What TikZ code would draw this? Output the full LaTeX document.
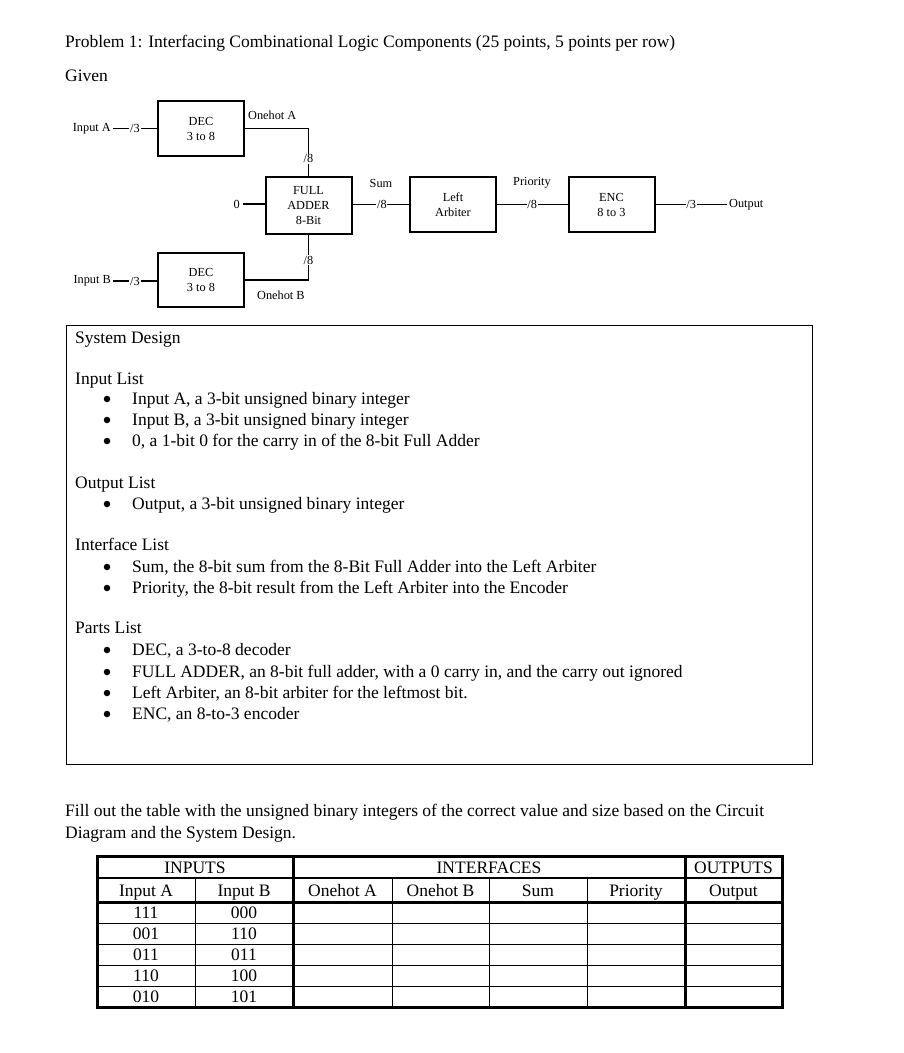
\documentclass[tikz,border=0pt]{standalone}
\usepackage{fontspec}
\setmainfont{Liberation Serif}
\newcommand\myDiag{\fontsize{12.3}{15}\selectfont}
\newcommand\myMain{\fontsize{17.5}{21}\selectfont}
\tikzset{
  blockbox/.style={draw, line width=2pt, minimum width=86pt, align=center, font=\myDiag, inner sep=0pt},
  wire/.style={line width=1.5pt},
  buslbl/.style={fill=white, inner sep=0.8pt, font=\myDiag},
  dlbl/.style={font=\myDiag, inner sep=0pt},
  txt/.style={anchor=base west, inner sep=0pt, font=\myMain},
  bul/.style={circle, fill=black, minimum size=6.5pt, inner sep=0pt},
  cell/.style={anchor=base, inner sep=0pt, font=\myMain},
  thinl/.style={line width=1pt},
  thickl/.style={line width=3pt},
}
\begin{document}
\begin{tikzpicture}[x=1pt,y=-1pt]
\useasboundingbox (0,0) rectangle (903,1053);

% heading
\node[txt] (title) at (65,47) {Problem 1: Interfacing Combinational Logic Components (25 points, 5 points per row)};
\node[txt] (given) at (65,81) {Given};

% blocks
\node[blockbox, minimum height=55pt] (decA) at (201,128.5) {DEC\\3 to 8};
\node[blockbox, minimum height=54pt] (decB) at (201,280) {DEC\\3 to 8};
\node[blockbox, minimum height=57pt] (fa) at (308.5,205.5) {FULL\\ADDER\\8-Bit};
\node[blockbox, minimum height=55pt] (arb) at (453,204.5) {Left\\Arbiter};
\node[blockbox, minimum height=55pt] (enc) at (611.5,204.5) {ENC\\8 to 3};

% external labels
\node[dlbl, anchor=east] (inA) at (111,128.5) {Input A};
\node[dlbl, anchor=east] (inB) at (111,281) {Input B};
\node[dlbl, anchor=east] (zero) at (240,204) {0};
\node[dlbl, anchor=west] (out) at (729,204.5) {Output};
\node[dlbl, anchor=west] (ohA) at (248,115) {Onehot A};
\node[dlbl, anchor=west] (ohB) at (257,295) {Onehot B};
\node[dlbl] (sumlbl) at (381,183) {Sum};
\node[dlbl] (prilbl) at (532,183) {Priority};

% connectors
\draw[wire] ([xshift=2pt]inA.east) -- node[buslbl, pos=0.5]{/3} (inA.east -| decA.west);
\draw[wire] ([xshift=2pt]inB.east) -- node[buslbl, pos=0.5]{/3} (inB.east -| decB.west);
\draw[wire] ([xshift=3pt]zero.east) -- (zero.east -| fa.west);
\draw[wire] (decA.east) -| node[buslbl, pos=0.82]{/8} (fa.north);
\draw[wire] (fa.south) |- node[buslbl, pos=0.28]{/8} (decB.east);
\draw[wire] (fa.east |- arb.west) -- node[buslbl, pos=0.52]{/8} (arb.west);
\draw[wire] (arb.east) -- node[buslbl, pos=0.5]{/8} (enc.west);
\draw[wire] (enc.east) -- node[buslbl, pos=0.5]{/3} ([xshift=-2pt]out.west);

% system design box
\draw[line width=1pt] (66,325) rectangle (812,764);
\node[txt] (sd) at (75,343) {System Design};
\node[txt] (il) at (75,384) {Input List};
\node[bul] at (107,399) {};
\node[txt] at (132,404) {Input A, a 3-bit unsigned binary integer};
\node[bul] at (107,420) {};
\node[txt] at (132,425) {Input B, a 3-bit unsigned binary integer};
\node[bul] at (107,441) {};
\node[txt] at (132,446) {0, a 1-bit 0 for the carry in of the 8-bit Full Adder};

\node[txt] (ol) at (75,488) {Output List};
\node[bul] at (107,504) {};
\node[txt] at (132,509) {Output, a 3-bit unsigned binary integer};

\node[txt] (ifl) at (75,550) {Interface List};
\node[bul] at (107,567) {};
\node[txt] at (132,572) {Sum, the 8-bit sum from the 8-Bit Full Adder into the Left Arbiter};
\node[bul] at (107,588) {};
\node[txt] at (132,593) {Priority, the 8-bit result from the Left Arbiter into the Encoder};

\node[txt] (pl) at (75,633) {Parts List};
\node[bul] at (107,650) {};
\node[txt] at (132,655) {DEC, a 3-to-8 decoder};
\node[bul] at (107,672) {};
\node[txt] at (132,677) {FULL ADDER, an 8-bit full adder, with a 0 carry in, and the carry out ignored};
\node[bul] at (107,693) {};
\node[txt] at (132,698) {Left Arbiter, an 8-bit arbiter for the leftmost bit.};
\node[bul] at (107,714) {};
\node[txt] at (132,719) {ENC, an 8-to-3 encoder};

% instructions
\node[txt] at (65,816) {Fill out the table with the unsigned binary integers of the correct value and size based on the Circuit};
\node[txt] at (65,838) {Diagram and the System Design.};

% table lines
\foreach \yy in {923,944,965,986} \draw[thinl] (97,\yy) -- (782,\yy);
\foreach \xx in {195,392,489,587} \draw[thinl] (\xx,878) -- (\xx,1007);
\draw[line width=2pt] (97,878) -- (782,878);
\draw[thickl] (97,902) -- (782,902);
\draw[thickl] (293,856) -- (293,1007);
\draw[thickl] (685,856) -- (685,1007);
\draw[thickl] (97,856) rectangle (782,1007);

% table headers
\node[cell] at (195,873) {INPUTS};
\node[cell] at (489,873) {INTERFACES};
\node[cell] at (733.5,873) {OUTPUTS};
\node[cell] at (146,896) {Input A};
\node[cell] at (244,896) {Input B};
\node[cell] at (342.5,896) {Onehot A};
\node[cell] at (440.5,896) {Onehot B};
\node[cell] at (538,896) {Sum};
\node[cell] at (636,896) {Priority};
\node[cell] at (733.5,896) {Output};

% table data
\node[cell] at (146,918) {111};
\node[cell] at (244,918) {000};
\node[cell] at (146,939) {001};
\node[cell] at (244,939) {110};
\node[cell] at (146,960) {011};
\node[cell] at (244,960) {011};
\node[cell] at (146,981) {110};
\node[cell] at (244,981) {100};
\node[cell] at (146,1002) {010};
\node[cell] at (244,1002) {101};
\end{tikzpicture}
\end{document}
